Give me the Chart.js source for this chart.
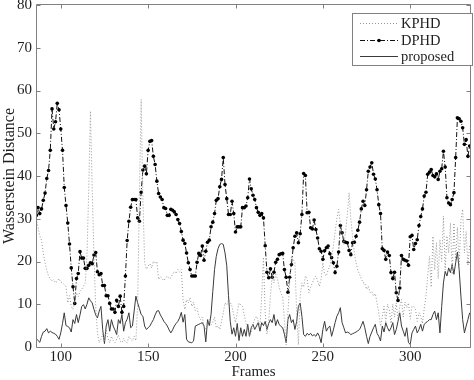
<!DOCTYPE html>
<html><head><meta charset="utf-8">
<script src="https://cdn.jsdelivr.net/npm/chart.js@4.4.0/dist/chart.umd.min.js"></script>
<style>html,body{margin:0;padding:0;background:#fff;}#wrap{width:474px;height:380px;}</style>
</head><body><div id="wrap"><canvas id="c" width="474" height="380"></canvas></div>
<script>
const firstFrame = 86;
const seriesNames = ['KPHD', 'DPHD', 'proposed'];
const xTitle = 'Frames';
const yTitle = 'Wasserstein Distance';
const xTicks = [100, 150, 200, 250, 300];
const yTicks = [0, 10, 20, 30, 40, 50, 60, 70, 80];

const kphd = [
30,28,26,25,22,19.7,18,16.6,16,15.4,
15.8,15,15.4,16,15.2,15,14.6,14.2,10.3,12,
9.5,8.8,10.5,12.7,11.8,13,13.5,14.2,15,21.2,
36.8,55.2,36.8,21.2,9.5,3.3,1,1.8,3,1.2,
4.1,2,1,2.5,1.5,1,1.8,2.8,1.4,1,
2,1.2,1,2.5,1.8,1.4,2.5,1.5,10,35,
57.9,35,19.7,18.2,18.9,19.5,18.5,20.1,19.5,20,
15.8,16.5,16,15.5,16.2,16.6,16,16.2,17,17.7,
17.2,18.1,17.5,18.1,11.1,8.8,11.1,10.3,11.5,9.5,
10.5,8.5,9,7.2,6.4,7,4.9,4.1,5,6.5,
5.2,5.7,7,4.5,5,4.1,6,8,10.3,9.8,
11.1,10.5,9.5,7.5,5.7,8,10.3,9.8,9.5,7.5,
5.7,4,2.5,3.5,5.5,6.5,7.2,6,5,12,
21,8,3,6,12,16.6,15,17,16,14,
12.5,11.9,6,0.5,8,15,21.2,20.5,19.7,8,
0.5,11.9,15,14,16.6,16,12.7,14,15,16,
16.6,15.5,14.2,16,19.7,17,16.6,18,19,21,
23.6,27,30,32.2,29,26.7,24,27,31,36.1,
30,25.9,22,19.7,18,17,16,15,15,13.5,
14.2,12.7,13,11.9,12.5,10.3,8,4.9,7,9.5,
6,10,8.8,5.5,10,7,10.3,6.5,9.5,11.1,
7,10.5,9.2,10.3,6.5,9.5,9.5,8.8,6,8,
7.2,5.5,9,12,16.6,21.2,14,25.9,18,24.4,
16,25.1,20,30.6,18,26,22,29,17,29,
20,28,19,29.8,32.2,22,27,19,24
];

const dphd = [
30.8,32.6,31.2,32.3,34.3,36,39.4,41.3,46,55.7,
51,52.7,57,55.5,51,46,37.3,33.1,29,24.1,
18.5,14.1,10.2,16,17.2,22.3,20.8,20.8,18.4,18.4,
19.1,19.7,19.5,21.5,22.1,17.6,16.9,17.2,14.4,14.4,
12,12,10.2,8.9,8.9,8.1,10.9,9.5,11.9,8.1,
9.5,16.6,24.9,29.4,32.7,34.5,34.5,34.5,30.2,29.4,
36.2,41.4,42.3,40.5,46,48.1,48.3,44.6,42.7,38.8,
35.9,35.1,34.5,32.6,32.4,30.8,30.8,32.2,32,31.6,
31,29.8,28.9,27,25,24.2,22,19.7,18.1,16.6,
16.6,16.6,19.8,21.9,21.4,23.6,20.3,22.4,24.5,25,
28.1,29.2,31.2,34.3,34.7,37.5,39.2,44.3,38,34.7,
31,31,34.1,31.2,26.9,28.1,28.1,28.1,32.6,32.6,
33,34.9,39.3,37,35.5,34.5,32.6,31.5,30.8,31.2,
30.2,23.7,17.5,16.2,18.3,16.3,17.5,19.8,20.5,21.6,
21.8,21.9,18.1,16.3,12.8,16.3,19.3,23.2,25.9,26.7,
24.4,26.5,31,40.6,40.1,31.4,31.5,27.9,27.6,29.7,
27.5,25.5,23,22.4,20.5,22.5,23.2,23.6,21.8,20.9,
19.7,17.4,18.9,22.2,28.4,26.7,24.7,24.5,24.4,22.6,
21.6,24.4,24.5,25.9,27.3,29.2,32.3,34.1,33.1,36.8,
41.1,42.1,43.1,40.4,39.3,36.8,33.3,31.2,23,22.6,
20.5,22.2,21.4,17.4,16,17.5,12.7,10.9,13.8,21.4,
20.5,20.3,20.1,19.1,25.8,26.1,22.8,24.2,25.1,28.4,
30.5,32.3,35.3,36.2,40.4,40.9,41.5,40.1,39.8,40.5,
39.2,41.1,41.7,45.8,42.1,34.9,33.7,33.3,34.5,36.1,
44.3,53.6,53.4,52.8,51.3,47.4,48.5,44.6,47
];

const proposed = [
2,1.5,1.1,2.5,3.5,3.7,4.3,3.3,3.7,3.4,
3.2,3,2.5,1.8,3.3,5.5,8,5,4.8,4.5,
3.5,6.4,5.5,7.6,5.7,7.5,9.5,9.9,8.9,10,
11.5,10.8,10.3,8.8,7.5,6.8,8.4,9.5,4.1,0.8,
4.9,6.4,3.7,6.4,4.9,4,2.9,6.4,5.5,7.6,
3.7,5.7,6.5,8,4.5,4.9,8.4,11.9,10.3,9,
7.6,7.2,4.9,4.1,4.5,4.9,5.7,6.4,7.5,8.4,
8.5,7.5,6.8,6,5.5,4.9,4,3.3,4,4.9,
5.5,6,6.8,8.1,5.8,7.6,1.8,1.2,1.1,1,
1.4,4.9,5.1,5.3,5.5,5.7,4.9,1.2,6.4,5,
7.6,13,18.1,21.2,23,24,24.2,24,22,19,
12,6,3,4.5,2.5,5.5,1.5,4.5,2.5,4.1,
2.5,5.3,2.5,4.5,5.3,4.1,4.9,5.7,3.7,5.7,
5,6,4.1,5.5,6.4,5.7,7.6,5,6.4,5.3,
4.8,4.5,3,1,6.4,7.6,5.7,6.4,4.1,6,
9.5,10.3,7.2,2.9,2.5,3.2,2.8,3.2,2.6,2.9,
2.5,3.3,2.5,1,4.1,6,3.7,4.5,4.9,2.5,
4,5.7,7.2,8,9.2,5.7,4.5,3.3,3.5,3.3,
2.9,3.1,3.3,3.5,3.8,4.1,5,6,4.5,2.5,
0.8,2.5,3.5,4.5,5.3,3.2,2.5,1.4,4.9,3.5,
5.7,4.5,3.7,4.5,5.7,2.9,4.1,6,8,4.9,
3.7,2.5,4.5,1,0.6,3.3,4.1,4.9,3.3,4.1,
5.3,3.7,5.3,5.7,6,6.4,6.4,7.6,8.4,6.4,
8,3.3,9.5,15,17.7,16.6,18.5,17.4,19.3,17,
19.7,22.2,18.1,11.9,6.4,3.3,4.9,6.4,8
];

const toXY = arr => arr.map((v, i) => ({ x: firstFrame + i, y: v }));
const FONT = "'Liberation Serif', 'Times New Roman', serif";
const FRAME = '#808080';
const TEXT = '#1e1e1e';

const styles = [
  { color: '#959595', dash: [1, 2], width: 1, marker: false },
  { color: '#111111', dash: [5, 2, 1, 2], width: 1, marker: true },
  { color: '#3a3a3a', dash: [], width: 1, marker: false }
];

const boxPlugin = {
  id: 'boxPlugin',
  afterDatasetsDraw(chart) {
    const { ctx, chartArea: a, scales } = chart;
    ctx.save();
    ctx.strokeStyle = FRAME;
    ctx.lineWidth = 1;
    const L = Math.round(a.left) - 0.5, R = Math.round(a.right) + 0.5;
    const T = Math.round(a.top) - 0.5, B = Math.round(a.bottom) + 0.5;
    ctx.beginPath();
    ctx.rect(L, T, R - L, B - T);
    ctx.stroke();
    const tl = 4;
    ctx.beginPath();
    xTicks.forEach(v => {
      const x = Math.round(scales.x.getPixelForValue(v)) + 0.5;
      ctx.moveTo(x, B); ctx.lineTo(x, B - tl);
      ctx.moveTo(x, T); ctx.lineTo(x, T + tl);
    });
    yTicks.forEach(v => {
      const y = Math.round(scales.y.getPixelForValue(v)) + 0.5;
      ctx.moveTo(L, y); ctx.lineTo(L + tl, y);
      ctx.moveTo(R, y); ctx.lineTo(R - tl, y);
    });
    ctx.stroke();
    ctx.restore();
  },
  afterDraw(chart) {
    const { ctx } = chart;
    ctx.save();
    const lx = 352.5, ly = 13.5, lw = 120, lh = 52;
    ctx.fillStyle = '#fff';
    ctx.fillRect(lx, ly, lw, lh);
    ctx.strokeStyle = FRAME;
    ctx.lineWidth = 1;
    ctx.strokeRect(lx, ly, lw, lh);
    const rows = [23, 40, 56];
    ctx.font = '14.5px ' + FONT;
    ctx.textBaseline = 'middle';
    ctx.textAlign = 'left';
    seriesNames.forEach((name, i) => {
      const s = styles[i];
      const y = rows[i] + 0.5;
      ctx.strokeStyle = s.color;
      ctx.lineWidth = s.width;
      ctx.setLineDash(s.dash);
      ctx.beginPath();
      ctx.moveTo(360, y); ctx.lineTo(398, y);
      ctx.stroke();
      ctx.setLineDash([]);
      if (s.marker) {
        ctx.fillStyle = '#000';
        ctx.beginPath(); ctx.arc(379, y, 1.8, 0, Math.PI * 2); ctx.fill();
      }
      ctx.fillStyle = TEXT;
      ctx.fillText(name, 401, rows[i] + 1);
    });
    ctx.restore();
  }
};

const datasets = [kphd, dphd, proposed].map((arr, i) => ({
  label: seriesNames[i],
  data: toXY(arr),
  borderColor: styles[i].color,
  borderWidth: styles[i].width,
  borderDash: styles[i].dash,
  pointRadius: styles[i].marker ? 1.8 : 0,
  pointBackgroundColor: '#000',
  pointBorderWidth: 0,
  tension: 0,
  fill: false
}));

new Chart(document.getElementById('c'), {
  type: 'line',
  data: { datasets },
  options: {
    responsive: false,
    animation: false,
    devicePixelRatio: 1,
    layout: { padding: { top: 5, right: 1, left: 0, bottom: 0 } },
    plugins: { legend: { display: false }, tooltip: { enabled: false } },
    scales: {
      x: {
        type: 'linear', min: 86.4, max: 334.2,
        afterBuildTicks: s => { s.ticks = xTicks.map(v => ({ value: v })); },
        grid: { display: false, drawTicks: false },
        border: { display: false },
        ticks: { font: { family: FONT, size: 15, lineHeight: 1 }, color: TEXT, padding: 3, maxRotation: 0, autoSkip: false },
        title: { display: true, text: xTitle, font: { family: FONT, size: 15, lineHeight: 1.1 }, color: TEXT, padding: { top: 0, bottom: 0 } },
        afterFit: s => { s.height = 33; s.paddingLeft = 0; s.paddingRight = 0; }
      },
      y: {
        min: 0, max: 80,
        afterBuildTicks: s => { s.ticks = yTicks.map(v => ({ value: v })); },
        grid: { display: false, drawTicks: false },
        border: { display: false },
        ticks: { font: { family: FONT, size: 15, lineHeight: 1 }, color: TEXT, padding: 5, autoSkip: false },
        title: { display: true, text: yTitle, font: { family: FONT, size: 16, lineHeight: 1.1 }, color: TEXT, padding: { top: 1, bottom: 0 } },
        afterFit: s => { s.width = 37; s.paddingTop = 0; s.paddingBottom = 0; }
      }
    }
  },
  plugins: [boxPlugin]
});
</script></body></html>
